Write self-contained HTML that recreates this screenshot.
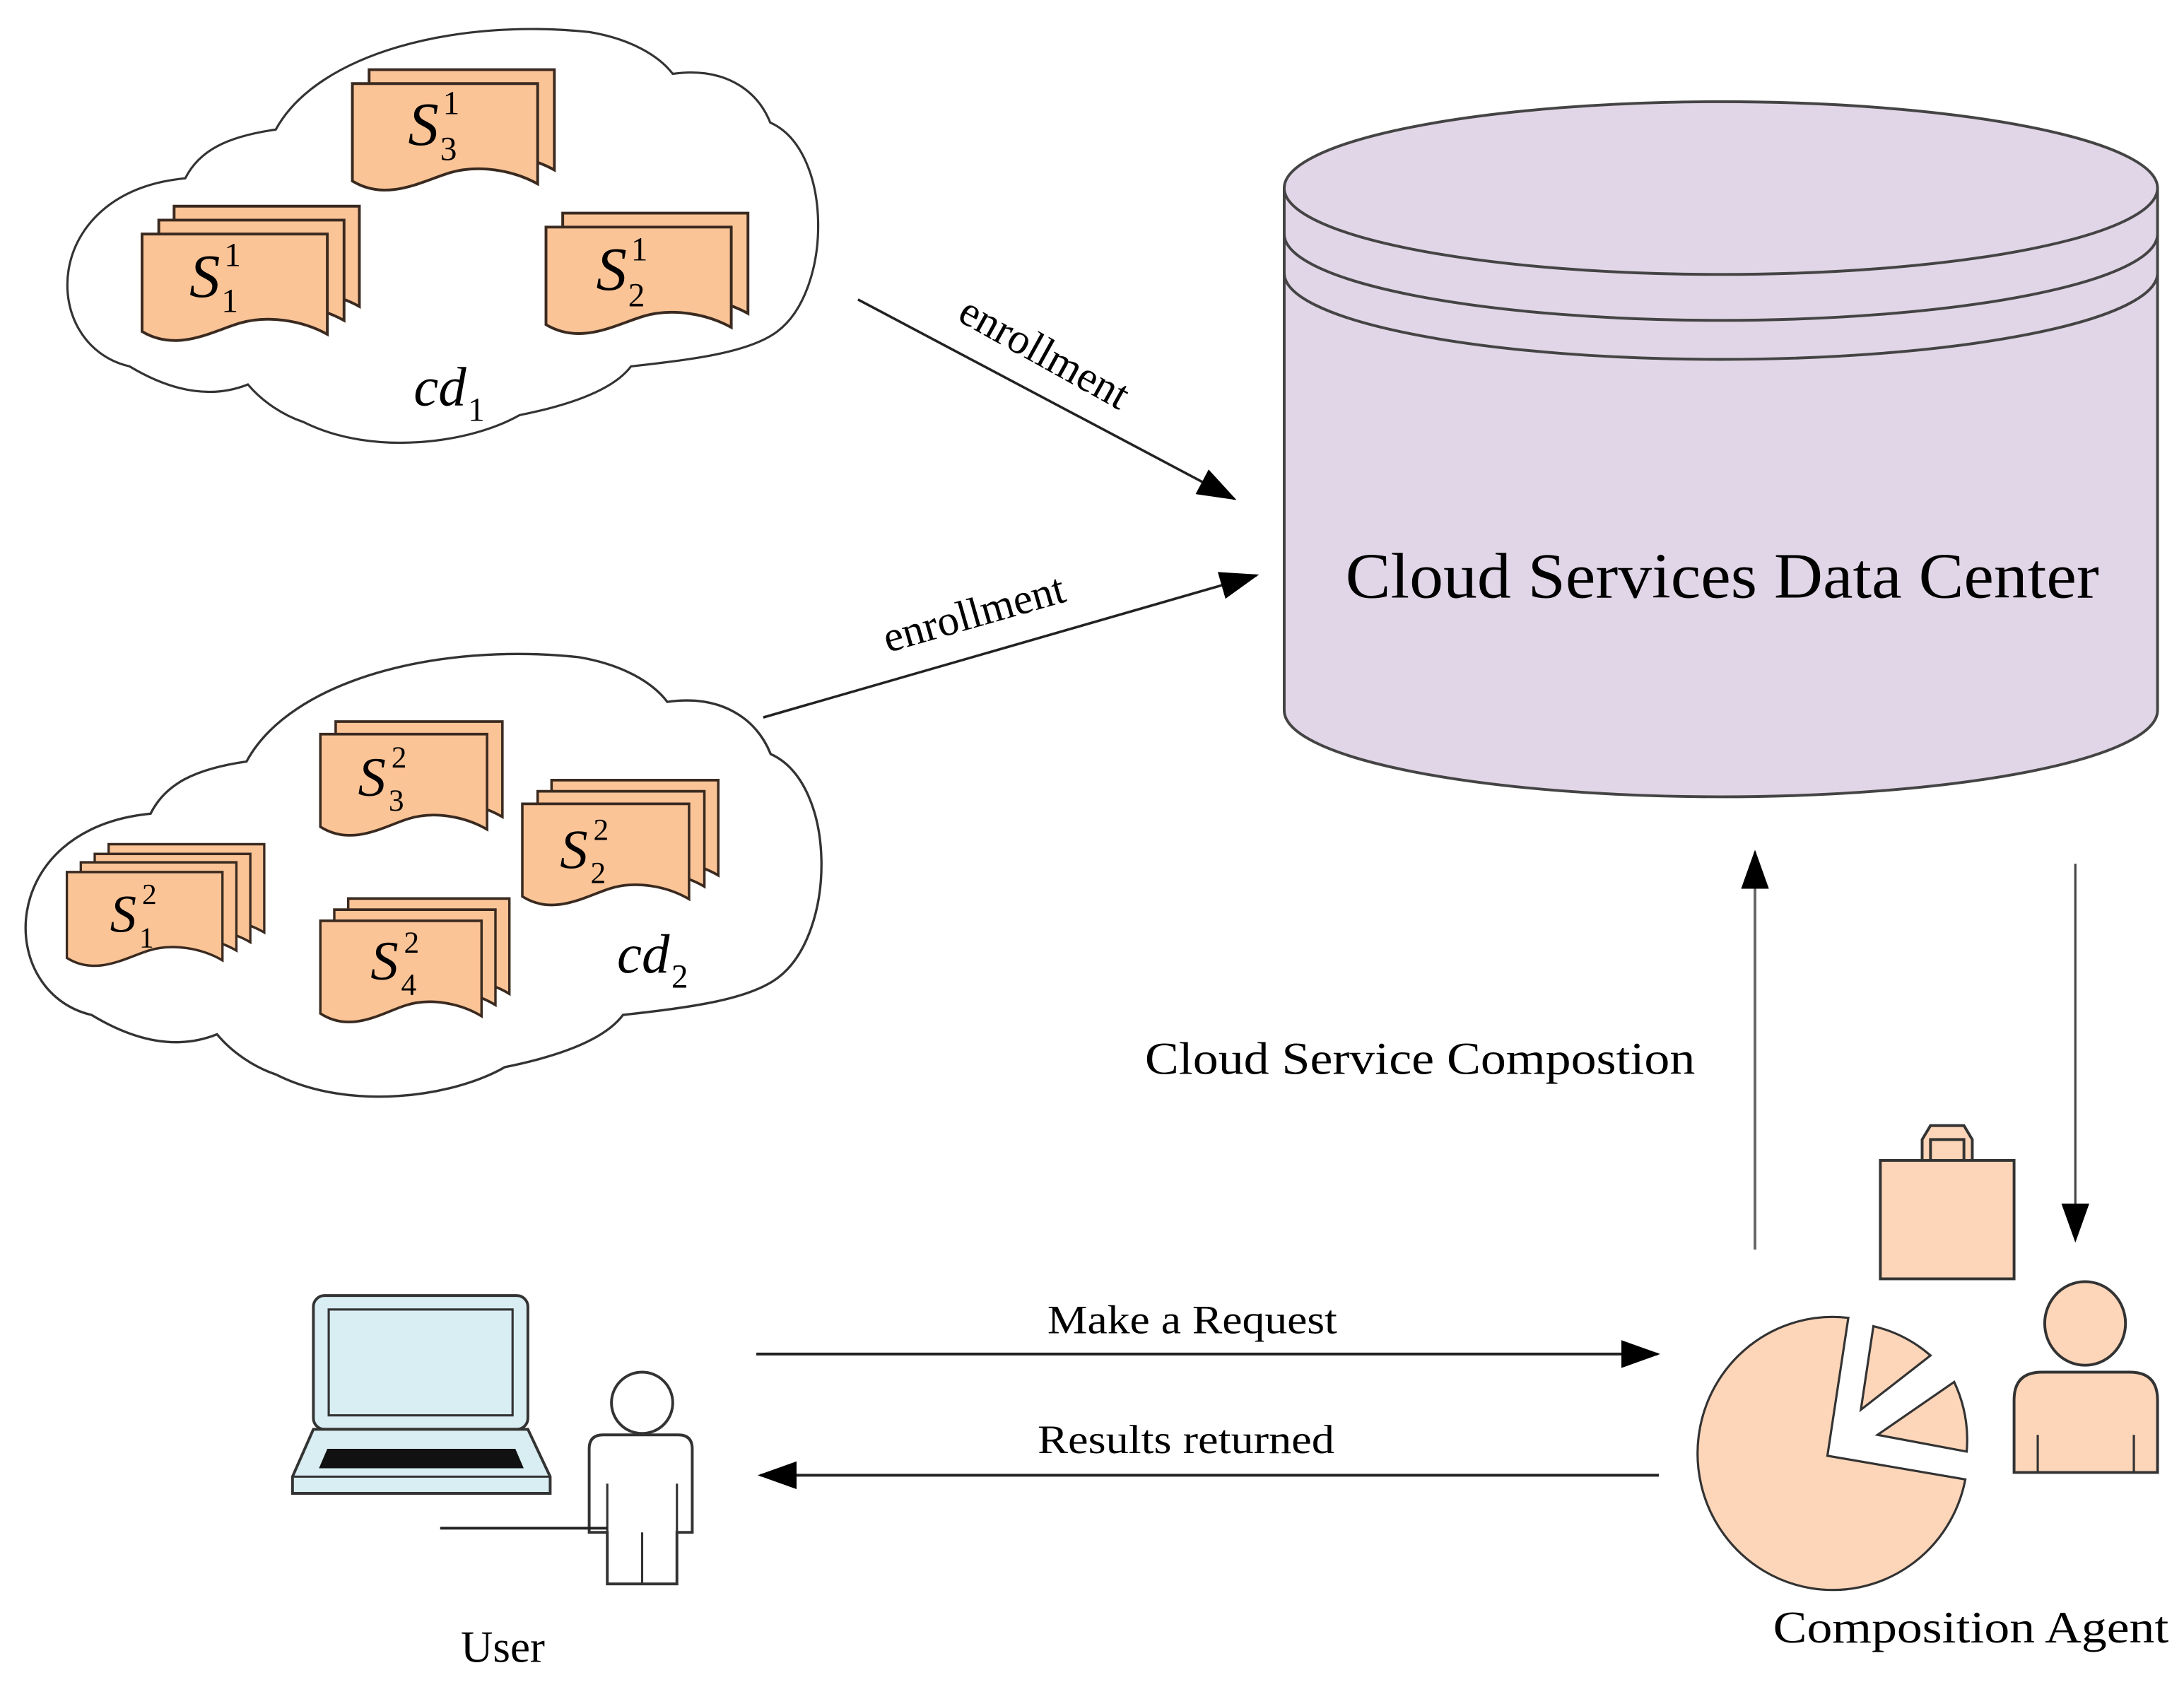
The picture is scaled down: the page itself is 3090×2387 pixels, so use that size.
<!DOCTYPE html>
<html><head><meta charset="utf-8"><style>html,body{margin:0;padding:0;background:#fff}svg{display:block}</style></head>
<body>
<svg width="3090" height="2387" viewBox="0 0 1568 1211" preserveAspectRatio="none" xmlns="http://www.w3.org/2000/svg" font-family="'Liberation Serif', serif">
<defs>
<path id="doc" d="M0 0 H133 V72 C115 62 90 58 70 64 C50 70 25 85 0 70 Z" fill="#fbc497" stroke="#3a2a20" stroke-width="2"/>
<path id="cloud" d="M95 265 C30 250 30 140 135 130 C145 110 165 100 200 95 C230 40 330 15 425 25 C455 30 475 42 485 55 C520 50 545 65 555 90 C600 110 600 210 560 240 C540 255 500 260 455 265 C440 285 400 295 375 300 C340 320 270 330 220 305 C205 300 190 290 180 278 C150 290 120 280 95 265 Z" fill="#fff" stroke="#333" stroke-width="1.6"/>
<marker id="ah" viewBox="0 0 14 10" refX="13" refY="5" markerWidth="28" markerHeight="20" markerUnits="userSpaceOnUse" orient="auto"><path d="M0 0 L14 5 L0 10 Z" fill="#000"/></marker>
</defs>

<use href="#cloud" transform="translate(-2,-2)"/>
<use href="#cloud" transform="translate(-35,445) scale(1.06,1.07)"/>

<g font-style="italic">
<g transform="translate(265,50)"><use href="#doc"/></g>
<g transform="translate(253,60)"><use href="#doc"/></g>
<text x="293" y="104" font-size="44">S</text><text x="318" y="82" font-size="24" font-style="normal">1</text><text x="316" y="115" font-size="24" font-style="normal">3</text>

<g transform="translate(125,148)"><use href="#doc"/></g>
<g transform="translate(114,158)"><use href="#doc"/></g>
<g transform="translate(102,168)"><use href="#doc"/></g>
<text x="136" y="213" font-size="44">S</text><text x="161" y="191" font-size="24" font-style="normal">1</text><text x="159" y="224" font-size="24" font-style="normal">1</text>

<g transform="translate(404,153)"><use href="#doc"/></g>
<g transform="translate(392,163)"><use href="#doc"/></g>
<text x="428" y="208" font-size="44">S</text><text x="453" y="187" font-size="24" font-style="normal">1</text><text x="451" y="220" font-size="24" font-style="normal">2</text>
<text x="297" y="291" font-size="40">cd</text><text x="336" y="302" font-size="24" font-style="normal">1</text>

<g transform="translate(241,518) scale(0.9,0.95)"><use href="#doc"/></g>
<g transform="translate(230,527) scale(0.9,0.95)"><use href="#doc"/></g>
<text x="257" y="571" font-size="40">S</text><text x="281" y="551" font-size="22" font-style="normal">2</text><text x="279" y="582" font-size="22" font-style="normal">3</text>

<g transform="translate(396,560) scale(0.9,0.95)"><use href="#doc"/></g>
<g transform="translate(386,568) scale(0.9,0.95)"><use href="#doc"/></g>
<g transform="translate(375,577) scale(0.9,0.95)"><use href="#doc"/></g>
<text x="402" y="623" font-size="40">S</text><text x="426" y="603" font-size="22" font-style="normal">2</text><text x="424" y="634" font-size="22" font-style="normal">2</text>

<g transform="translate(78,606) scale(0.84,0.88)"><use href="#doc"/></g>
<g transform="translate(68,613) scale(0.84,0.88)"><use href="#doc"/></g>
<g transform="translate(58,619) scale(0.84,0.88)"><use href="#doc"/></g>
<g transform="translate(48,626) scale(0.84,0.88)"><use href="#doc"/></g>
<text x="79" y="669" font-size="38">S</text><text x="102" y="649" font-size="21" font-style="normal">2</text><text x="100" y="680" font-size="21" font-style="normal">1</text>

<g transform="translate(250,645) scale(0.87,0.95)"><use href="#doc"/></g>
<g transform="translate(240,653) scale(0.87,0.95)"><use href="#doc"/></g>
<g transform="translate(230,661) scale(0.87,0.95)"><use href="#doc"/></g>
<text x="266" y="703" font-size="40">S</text><text x="290" y="684" font-size="22" font-style="normal">2</text><text x="288" y="714" font-size="22" font-style="normal">4</text>
<text x="443" y="698" font-size="40">cd</text><text x="482" y="709" font-size="24" font-style="normal">2</text>
</g>

<path d="M922 135 V510 A313.5 62 0 0 0 1549 510 V135" fill="#e1d6e7" stroke="#444" stroke-width="2"/>
<ellipse cx="1235.5" cy="135" rx="313.5" ry="62" fill="#e1d6e7" stroke="#444" stroke-width="2"/>
<path d="M922 168 A313.5 62 0 0 0 1549 168" fill="none" stroke="#444" stroke-width="2"/>
<path d="M922 196 A313.5 62 0 0 0 1549 196" fill="none" stroke="#444" stroke-width="2"/>
<text x="966" y="429" font-size="46" textLength="541" lengthAdjust="spacingAndGlyphs">Cloud Services Data Center</text>

<line x1="616" y1="215" x2="886" y2="358" stroke="#222" stroke-width="1.8" marker-end="url(#ah)"/>
<line x1="548" y1="515" x2="902" y2="413" stroke="#222" stroke-width="1.8" marker-end="url(#ah)"/>
<text x="745" y="262" font-size="31" text-anchor="middle" transform="rotate(29 745 262)">enrollment</text>
<text x="702" y="450" font-size="31" text-anchor="middle" transform="rotate(-16 702 450)">enrollment</text>

<line x1="1260" y1="897" x2="1260" y2="612" stroke="#666" stroke-width="2" marker-end="url(#ah)"/>
<line x1="1490" y1="620" x2="1490" y2="890" stroke="#444" stroke-width="1.6" marker-end="url(#ah)"/>
<text x="822" y="771" font-size="33" textLength="395" lengthAdjust="spacingAndGlyphs">Cloud Service Compostion</text>

<path d="M1380 833 V818 L1386 808 H1410 L1416 818 V833 M1386 833 V818 H1410 V833" fill="#fdd5b8" stroke="#333" stroke-width="2"/>
<rect x="1350" y="833" width="96" height="85" fill="#fdd5b8" stroke="#333" stroke-width="2"/>

<path d="M1312 1045 L1327 946 A97 98 0 1 0 1411 1062 Z" fill="#fdd5b8" stroke="#333" stroke-width="1.6"/>
<path d="M1336 1012 L1345 952 A97 98 0 0 1 1386 973 Z" fill="#fdd5b8" stroke="#333" stroke-width="1.6"/>
<path d="M1348 1030 L1403 992 A97 98 0 0 1 1412 1042 Z" fill="#fdd5b8" stroke="#333" stroke-width="1.6"/>

<ellipse cx="1497" cy="950" rx="29" ry="30" fill="#fdd5b8" stroke="#333" stroke-width="2"/>
<path d="M1446 1057 V1005 Q1446 985 1466 985 H1529 Q1549 985 1549 1005 V1057 Z" fill="#fdd5b8" stroke="#333" stroke-width="2"/>
<line x1="1463" y1="1030" x2="1463" y2="1057" stroke="#333" stroke-width="1.6"/>
<line x1="1532" y1="1030" x2="1532" y2="1057" stroke="#333" stroke-width="1.6"/>

<line x1="543" y1="972" x2="1190" y2="972" stroke="#222" stroke-width="2" marker-end="url(#ah)"/>
<line x1="1191" y1="1059" x2="546" y2="1059" stroke="#222" stroke-width="2" marker-end="url(#ah)"/>
<text x="752" y="957" font-size="29" textLength="208" lengthAdjust="spacingAndGlyphs">Make a Request</text>
<text x="745" y="1043" font-size="29" textLength="213" lengthAdjust="spacingAndGlyphs">Results returned</text>
<text x="1273" y="1179" font-size="32" textLength="284" lengthAdjust="spacingAndGlyphs">Composition Agent</text>
<text x="361" y="1193" font-size="32" text-anchor="middle">User</text>

<rect x="225" y="930" width="154" height="96" rx="8" fill="#d9eef3" stroke="#333" stroke-width="2"/>
<rect x="236" y="940" width="132" height="76" fill="#d9eef3" stroke="#333" stroke-width="1.6"/>
<path d="M225 1026 H379 L395 1060 V1072 H210 V1060 Z" fill="#d9eef3" stroke="#333" stroke-width="2"/>
<path d="M235 1040 H370 L376 1054 H229 Z" fill="#111"/>
<line x1="210" y1="1060" x2="395" y2="1060" stroke="#333" stroke-width="1.5"/>

<circle cx="461" cy="1007" r="22" fill="#fff" stroke="#333" stroke-width="2"/>
<path d="M436 1137 V1100 H423 V1040 Q423 1030 433 1030 H487 Q497 1030 497 1040 V1100 H486 V1137 Z" fill="#fff" stroke="#333" stroke-width="2"/>
<line x1="461" y1="1100" x2="461" y2="1137" stroke="#333" stroke-width="1.6"/>
<line x1="436" y1="1065" x2="436" y2="1100" stroke="#333" stroke-width="1.6"/>
<line x1="486" y1="1065" x2="486" y2="1100" stroke="#333" stroke-width="1.6"/>
<line x1="316" y1="1097" x2="436" y2="1097" stroke="#222" stroke-width="2"/>
</svg>
</body></html>
